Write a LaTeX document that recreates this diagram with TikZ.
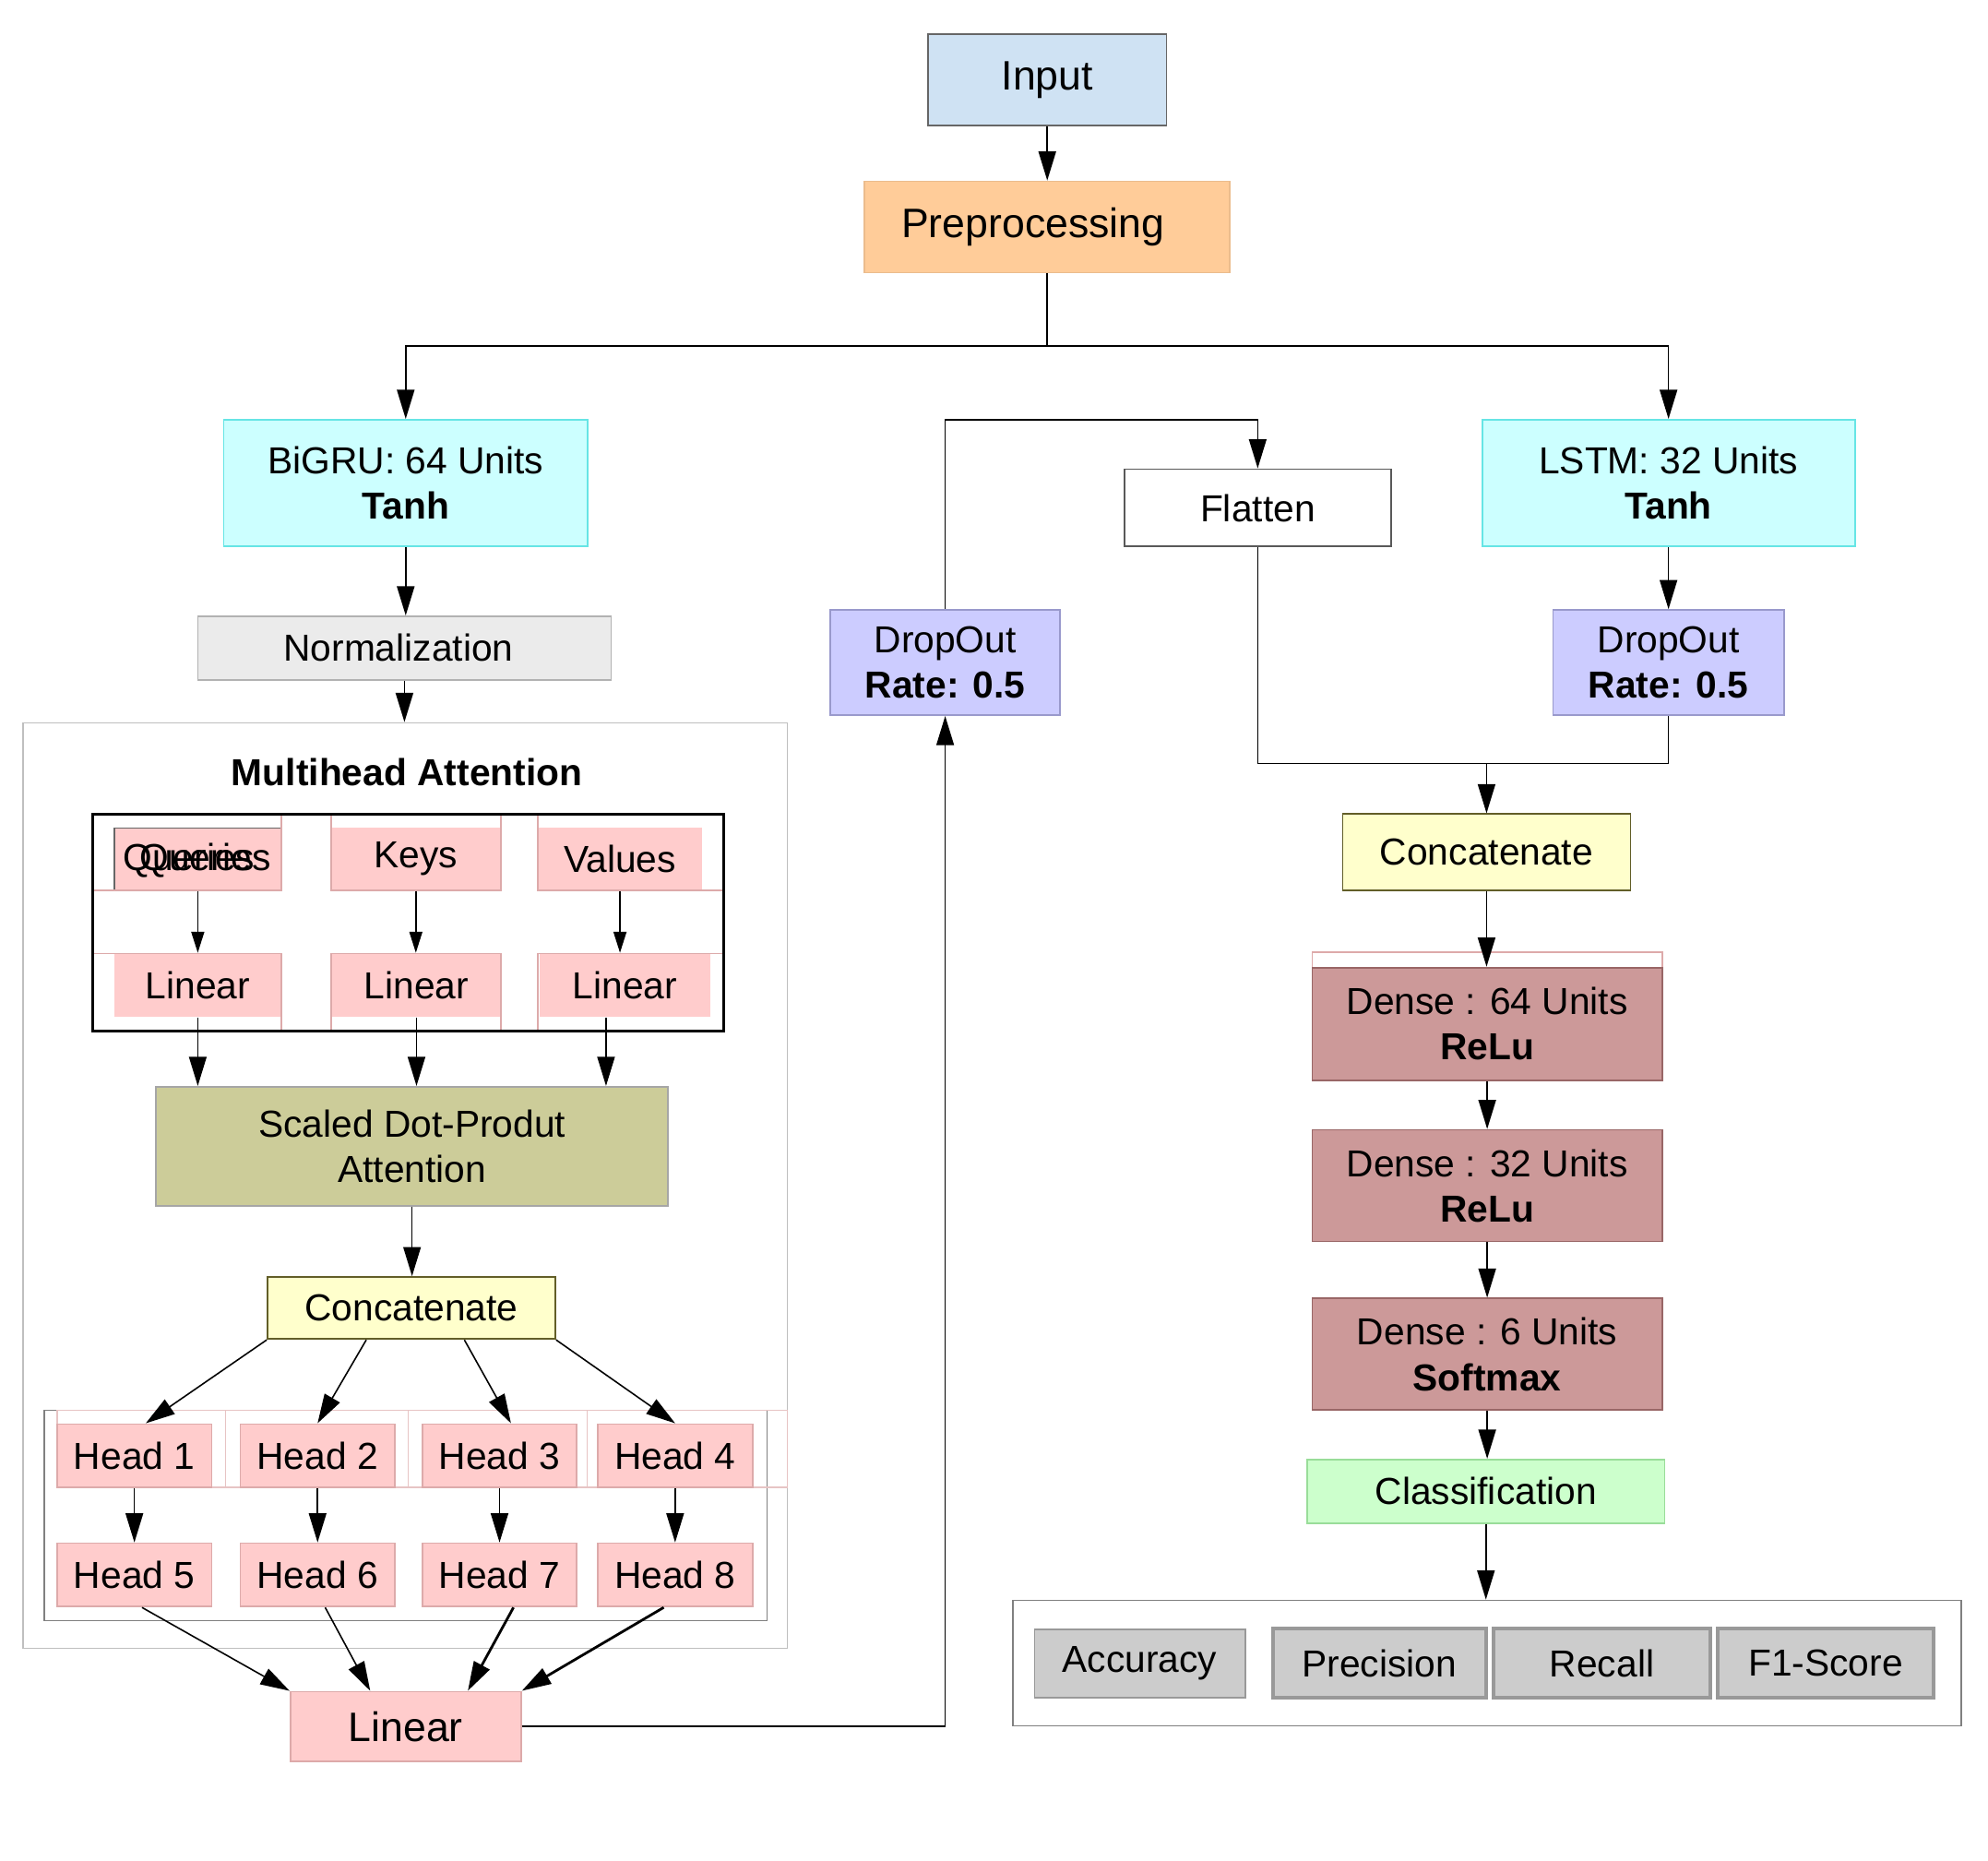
\documentclass[tikz,border=0pt]{standalone}
\usepackage{fontspec}
\setmainfont{Liberation Sans}
\usepackage{tikz}
\usetikzlibrary{calc, arrows.meta, positioning}
\tikzset{>={Triangle[length=9pt,width=5.4pt]}}

\definecolor{inputblue}{HTML}{CFE2F3}
\definecolor{prepfill}{HTML}{FFCC99}
\definecolor{grufill}{HTML}{CCFFFF}
\definecolor{grudraw}{HTML}{66E5E5}
\definecolor{dropfill}{HTML}{CCCCFF}
\definecolor{dropdraw}{HTML}{9999CC}
\definecolor{normfill}{HTML}{EBEBEB}
\definecolor{pinkfill}{HTML}{FFCCCC}
\definecolor{pinkline}{HTML}{DDAAAA}
\definecolor{sdpfill}{HTML}{CCCC99}
\definecolor{catfill}{HTML}{FFFFCC}
\definecolor{densefill}{HTML}{CC9999}
\definecolor{densedraw}{HTML}{996666}
\definecolor{clsfill}{HTML}{CCFFCC}
\definecolor{clsdraw}{HTML}{99DD99}
\definecolor{metricfill}{HTML}{CCCCCC}

\newcommand{\unitpx}{0.013744cm}
\tikzset{
  block/.style={rectangle, inner sep=0pt, align=center, line width=0.5pt,
    font=\fontsize{11.6}{14}\selectfont},
  bigfont/.style={font=\fontsize{12.7}{15}\selectfont},
  dims/.style 2 args={minimum width=#1*\unitpx, minimum height=#2*\unitpx},
  gru/.style={fill=grufill, draw=grudraw},
  drop/.style={fill=dropfill, draw=dropdraw},
  pinkbox/.style={fill=pinkfill},
  headbox/.style={fill=pinkfill, draw=pinkline},
  densebox/.style={fill=densefill, draw=densedraw},
  metricbox/.style={fill=metricfill, draw=gray!80},
  smallhead/.style={-{Triangle[length=6.5pt,width=4pt]}}
}

\begin{document}
\begin{tikzpicture}[x=\unitpx, y=-\unitpx, line width=0.45pt]
\useasboundingbox (0,0) rectangle (1568,1467);

% top of the network
\node[block, bigfont, fill=inputblue, draw=gray!80!black, dims={188}{72}] (input) at (826,63) {Input};
\node[block, bigfont, fill=prepfill, draw=prepfill!92!black, dims={288}{72}] (prep) at (826,179) {Preprocessing\rule{0.31cm}{0pt}};

\node[block, gru, dims={287}{100}] (bigru) at (320,381) {BiGRU: 64 Units\\\textbf{Tanh}};
\node[block, gru, dims={294}{100}] (lstm) at (1316,381) {LSTM: 32 Units\\\textbf{Tanh}};
\node[block, fill=white, draw=gray!70!black, dims={210}{61}] (flat) at (992,400.5) {Flatten};
\node[block, drop, dims={181}{83}] (dropL) at (745.5,522.5) {DropOut\\\textbf{Rate: 0.5}};
\node[block, drop, dims={182}{83}] (dropR) at (1316,522.5) {DropOut\\\textbf{Rate: 0.5}};
\node[block, fill=normfill, draw=gray!60, dims={326}{50}] (norm) at (319,511) {Normalization\rule{0.13cm}{0pt}};

% multihead attention cluster
\node[draw=gray!50, fill=white, inner sep=0pt, dims={603}{730}] (attn) at (319.5,935) {};
\node[block, font=\fontsize{11.6}{14}\selectfont\bfseries] (attntitle) at (321,609) {Multihead Attention};

\node[block, pinkbox, draw=black!60, dims={132}{49}] (q) at (156,677.5) {};
\node[block] (qa) at (149,678.5) {Queries};
\node[block] (qb) at (162,678.5) {Queries};
\node[block, pinkbox, dims={134}{49}] (k) at (328,677.5) {Keys};
\node[block, pinkbox, dims={130}{49}] (v) at (489,677.5) {Values};
\node[block, pinkbox, dims={132}{50}] (lq) at (156,777) {Linear};
\node[block, pinkbox, dims={133}{50}] (lk) at (328.5,777) {Linear};
\node[block, pinkbox, dims={134}{50}] (lv) at (493,777) {Linear};
\foreach \xa/\xb in {73/222, 261/395, 424/571} {
  \draw[pinkline] (\xa,642) rectangle (\xb,702);
  \draw[pinkline] (\xa,752) rectangle (\xb,813);
}
\draw[line width=0.9pt] (73,642) rectangle (571,813);

\node[block, fill=sdpfill, draw=gray!70, dims={404}{94}] (sdp) at (325,904) {Scaled Dot-Produt\\Attention};
\node[block, fill=catfill, draw=olive!60!black, dims={227}{49}] (catL) at (324.5,1031.5) {Concatenate};

% heads
\draw[gray] (35,1112) rectangle (605,1278);
\foreach \xa/\xb in {45/178, 178/322, 322/463, 463/621}
  \draw[pinkline!70] (\xa,1112) rectangle (\xb,1173);
\foreach \i/\x in {1/106, 2/250.5, 3/394, 4/532.5}
  \node[block, headbox, dims={122}{50}] (h\i) at (\x,1148) {Head \i};
\foreach \i/\x in {5/106, 6/250.5, 7/394, 8/532.5}
  \node[block, headbox, dims={122}{50}] (h\i) at (\x,1242) {Head \i};
\node[block, bigfont, headbox, dims={182}{55}] (linout) at (320,1361.5) {Linear};

% right column
\node[block, fill=catfill, draw=olive!60!black, dims={227}{60}] (catR) at (1172.5,672) {Concatenate};
\draw[pinkline] (1035,751) rectangle (1311,852);
\node[block, densebox, dims={276}{89}] (d64) at (1173,807.5) {Dense : 64 Units\\\textbf{ReLu}};
\node[block, densebox, dims={276}{88}] (d32) at (1173,935) {Dense : 32 Units\\\textbf{ReLu}};
\node[block, densebox, dims={276}{88}] (d6) at (1173,1068) {Dense : 6 Units\\\textbf{Softmax}};
\node[block, fill=clsfill, draw=clsdraw, dims={282}{50}] (cls) at (1172,1176) {Classification};

\node[draw=gray, fill=white, inner sep=0pt, dims={748}{99}] (metrics) at (1173,1311.5) {};
\node[block, metricbox, dims={166}{54}] (acc) at (899,1312) {Accuracy};
\node[block, metricbox, line width=1.2pt, dims={168}{55}] (prec) at (1088,1311.5) {Precision};
\node[block, metricbox, line width=1.2pt, dims={171}{55}] (rec) at (1263.5,1311.5) {Recall};
\node[block, metricbox, line width=1.2pt, dims={170}{55}] (f1) at (1440,1311.5) {F1-Score};

% connectors
\coordinate (split) at (826,273);
\coordinate (loop) at (745.5,331);
\coordinate (join) at (1172.5,602);

\draw[->] (input) -- (prep);
\draw (prep.south) -- (split);
\draw[->] (split) -| (bigru.north);
\draw[->] (split) -| (lstm.north);
\draw[->] (bigru.south) -- (bigru.south |- norm.north);
\draw[->] (norm.south) -- (norm.south |- attn.north);

\draw[smallhead] (q.south) -- (q.south |- lq.north);
\draw[smallhead] (k.south) -- (k.south |- lk.north);
\draw[smallhead] (v.south) -- (v.south |- lv.north);
\draw[->] (lq.south) -- (lq.south |- sdp.north);
\draw[->] (lk.south) -- (lk.south |- sdp.north);
\draw[->] ($(lv.south)+(-15,0)$) -- ($(lv.south |- sdp.north)+(-15,0)$);
\draw[->] (sdp.south) -- (sdp.south |- catL.north);

\draw[->] (catL.south west) -- ($(h1.north)+(9,0)$);
\draw[->] ($(catL.south west)!0.344!(catL.south east)$) -- (h2.north);
\draw[->] ($(catL.south west)!0.683!(catL.south east)$) -- ($(h3.north)+(9,0)$);
\draw[->] (catL.south east) -- (h4.north);
\foreach \a/\b in {1/5, 2/6, 3/7, 4/8}
  \draw[->] (h\a) -- (h\b);
\draw[->] ($(h5.south)+(6,0)$) -- (linout.north west);
\draw[->] ($(h6.south)+(6,0)$) -- ($(linout.north)+(-28,0)$);
\draw[->, thick] ($(h7.south)+(11,0)$) -- ($(linout.north)+(49,0)$);
\draw[->, thick] ($(h8.south)+(-9,0)$) -- (linout.north east);

\draw[->] (linout.east) -| (dropL.south);
\draw[->] (dropL.north) -- (loop) -| (flat.north);
\draw[->] (lstm) -- (dropR);
\draw (flat.south) |- (join);
\draw (dropR.south) |- (join);
\draw[->] (join) -- (catR.north);
\draw[->] (catR.south) -- (catR.south |- d64.north);
\draw[->] (d64) -- (d32);
\draw[->] (d32) -- (d6);
\draw[->] (d6.south) -- (d6.south |- cls.north);
\draw[->] (cls.south) -- (cls.south |- metrics.north);
\end{tikzpicture}
\end{document}
